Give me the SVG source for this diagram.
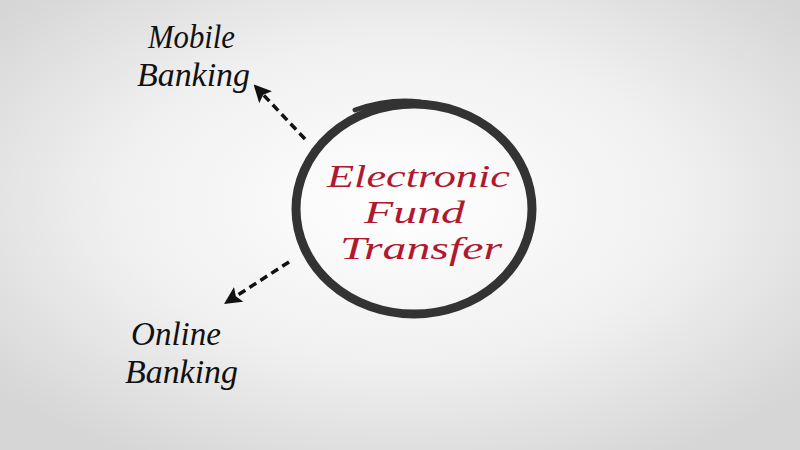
<svg xmlns="http://www.w3.org/2000/svg" width="800" height="450" viewBox="0 0 800 450">
<defs>
<radialGradient id="bg" cx="0.5" cy="0.45" r="0.65">
<stop offset="0" stop-color="#ffffff"/>
<stop offset="0.55" stop-color="#f0f0f0"/>
<stop offset="1" stop-color="#d6d6d6"/>
</radialGradient>
<marker id="ah" viewBox="0 0 10 10" refX="8" refY="5" markerWidth="5" markerHeight="5" orient="auto">
<path d="M0,0 L10,5 L0,10 L2,5 Z" fill="#111"/>
</marker>
<style>
.lbl{font-family:"Liberation Serif",serif;font-style:italic;fill:#111;font-size:33px}
.red{font-family:"Liberation Serif",serif;font-style:italic;fill:#b01830;font-size:31px}
.dash{stroke:#111;stroke-width:3.5;stroke-dasharray:8 5;fill:none}
</style>
</defs>
<rect width="800" height="450" fill="url(#bg)"/>
<g id="center">
<ellipse cx="414" cy="209" rx="118" ry="105" fill="none" stroke="#333" stroke-width="9"/>
<path d="M355,110 Q390,98 420,102" fill="none" stroke="#333" stroke-width="5" stroke-linecap="round"/>
<text class="red" x="327" y="187" textLength="183" lengthAdjust="spacingAndGlyphs">Electronic</text>
<text class="red" x="364" y="223" textLength="101" lengthAdjust="spacingAndGlyphs">Fund</text>
<text class="red" x="340" y="259" textLength="162" lengthAdjust="spacingAndGlyphs">Transfer</text>
</g>
<g id="mobile">
<text class="lbl" x="148" y="48" textLength="87" lengthAdjust="spacingAndGlyphs">Mobile</text>
<text class="lbl" x="137" y="86" textLength="113" lengthAdjust="spacingAndGlyphs">Banking</text>
</g>
<g id="online">
<text class="lbl" x="131" y="345" textLength="90" lengthAdjust="spacingAndGlyphs">Online</text>
<text class="lbl" x="125" y="383" textLength="113" lengthAdjust="spacingAndGlyphs">Banking</text>
</g>
<g id="connectors">
<line class="dash" x1="305" y1="139" x2="256" y2="87" marker-end="url(#ah)"/>
<line class="dash" x1="289" y1="262" x2="227" y2="302" marker-end="url(#ah)"/>
</g>
</svg>
